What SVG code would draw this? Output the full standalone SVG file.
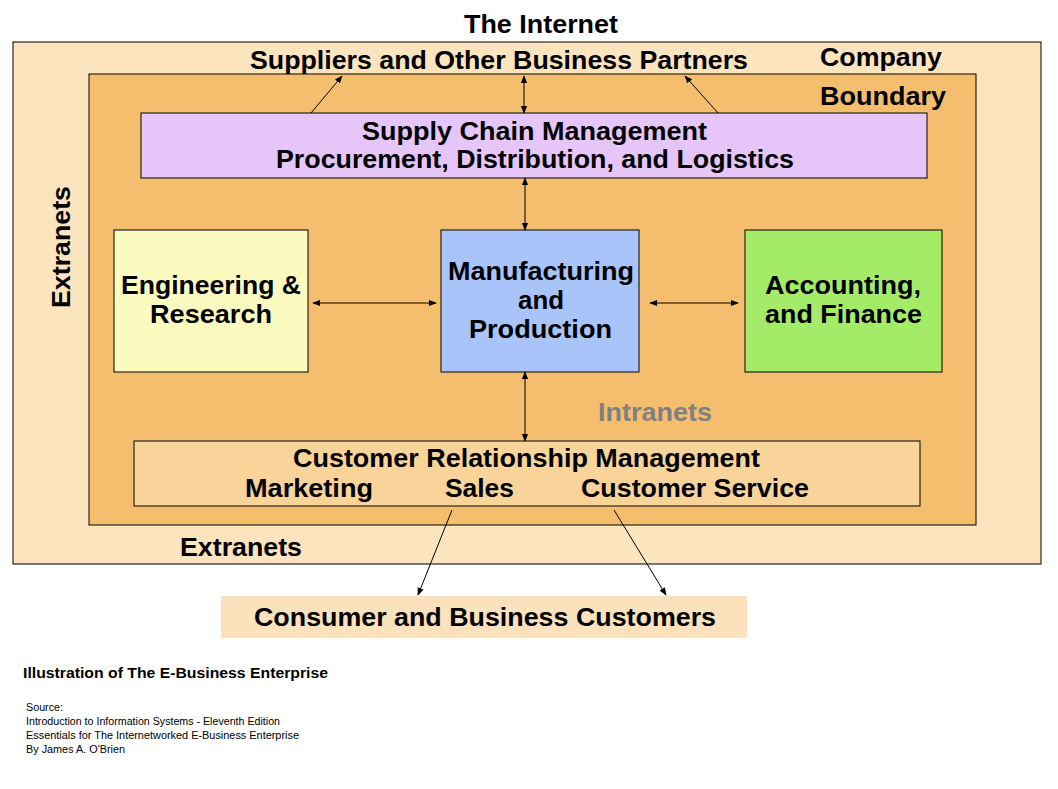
<svg xmlns="http://www.w3.org/2000/svg" width="1058" height="789" viewBox="0 0 1058 789">
<style>
.b{font-family:"Liberation Sans",Arial,sans-serif;font-weight:bold;fill:#000}
.t{font-size:25px}
.s{font-family:"Liberation Sans",Arial,sans-serif;font-size:10px;fill:#000}
.box{stroke:#000;stroke-width:1}
.c{stroke:#000;stroke-width:1;fill:none}
</style>
<defs>
<marker id="a" viewBox="0 0 10 10" refX="9" refY="5" markerWidth="8" markerHeight="8" orient="auto-start-reverse" markerUnits="userSpaceOnUse"><path d="M0,1 L10,5 L0,9 z" fill="#000"/></marker>
</defs>
<rect width="1058" height="789" fill="#fff"/>
<text class="b t" x="464" y="33" textLength="154" lengthAdjust="spacingAndGlyphs">The Internet</text>
<g id="company">
<rect class="box" x="13" y="42" width="1028" height="522" fill="#FCE4BE"/>
<rect class="box" x="89" y="74" width="887" height="451" fill="#F4BE6E"/>
<text class="b t" x="820" y="66" textLength="122" lengthAdjust="spacingAndGlyphs">Company</text>
<text class="b t" x="820" y="105" textLength="126" lengthAdjust="spacingAndGlyphs">Boundary</text>
<text class="b t" x="250" y="69" textLength="498" lengthAdjust="spacingAndGlyphs">Suppliers and Other Business Partners</text>
<text class="b t" x="70" y="308" textLength="122" lengthAdjust="spacingAndGlyphs" transform="rotate(-90 70 308)">Extranets</text>
<text class="b t" x="180" y="556" textLength="122" lengthAdjust="spacingAndGlyphs">Extranets</text>
<text class="b t" x="598" y="421" textLength="114" lengthAdjust="spacingAndGlyphs" style="fill:#808080">Intranets</text>
</g>
<g id="scm">
<rect class="box" x="141" y="113" width="786" height="65" fill="#E6C6F8"/>
<text class="b t" x="362" y="140" textLength="345" lengthAdjust="spacingAndGlyphs">Supply Chain Management</text>
<text class="b t" x="276" y="168" textLength="518" lengthAdjust="spacingAndGlyphs">Procurement, Distribution, and Logistics</text>
</g>
<g id="eng">
<rect class="box" x="114" y="230" width="194" height="142" fill="#FBFBC0"/>
<text class="b t" x="121" y="294" textLength="180" lengthAdjust="spacingAndGlyphs">Engineering &amp;</text>
<text class="b t" x="150" y="323" textLength="122" lengthAdjust="spacingAndGlyphs">Research</text>
</g>
<g id="mfg">
<rect class="box" x="441" y="230" width="198" height="142" fill="#A8C4F8"/>
<text class="b t" x="448" y="280" textLength="186" lengthAdjust="spacingAndGlyphs">Manufacturing</text>
<text class="b t" x="518" y="309" textLength="46" lengthAdjust="spacingAndGlyphs">and</text>
<text class="b t" x="469" y="338" textLength="143" lengthAdjust="spacingAndGlyphs">Production</text>
</g>
<g id="acc">
<rect class="box" x="745" y="230" width="197" height="142" fill="#A4EC68"/>
<text class="b t" x="765" y="294" textLength="156" lengthAdjust="spacingAndGlyphs">Accounting,</text>
<text class="b t" x="765" y="323" textLength="157" lengthAdjust="spacingAndGlyphs">and Finance</text>
</g>
<g id="crm">
<rect class="box" x="134" y="441" width="786" height="65" fill="#F8D49A"/>
<text class="b t" x="293" y="467" textLength="467" lengthAdjust="spacingAndGlyphs">Customer Relationship Management</text>
<text class="b t" x="245" y="497" textLength="128" lengthAdjust="spacingAndGlyphs">Marketing</text>
<text class="b t" x="445" y="497" textLength="69" lengthAdjust="spacingAndGlyphs">Sales</text>
<text class="b t" x="581" y="497" textLength="228" lengthAdjust="spacingAndGlyphs">Customer Service</text>
</g>
<g id="cust">
<rect x="221" y="596" width="526" height="42" fill="#FBE2BC"/>
<text class="b t" x="254" y="626" textLength="462" lengthAdjust="spacingAndGlyphs">Consumer and Business Customers</text>
</g>
<g id="connectors">
<line class="c" x1="311" y1="113" x2="342" y2="76" marker-end="url(#a)"/>
<line class="c" x1="524" y1="113" x2="524" y2="76" marker-start="url(#a)" marker-end="url(#a)"/>
<line class="c" x1="718" y1="113" x2="685" y2="76" marker-end="url(#a)"/>
<line class="c" x1="525" y1="230" x2="525" y2="178" marker-start="url(#a)" marker-end="url(#a)"/>
<line class="c" x1="313" y1="303" x2="436" y2="303" marker-start="url(#a)" marker-end="url(#a)"/>
<line class="c" x1="650" y1="303" x2="738" y2="303" marker-start="url(#a)" marker-end="url(#a)"/>
<line class="c" x1="525" y1="441" x2="525" y2="372" marker-start="url(#a)" marker-end="url(#a)"/>
<line class="c" x1="452" y1="510" x2="418" y2="595" marker-end="url(#a)"/>
<line class="c" x1="614" y1="510" x2="666" y2="595" marker-end="url(#a)"/>
</g>
<text class="b" x="23" y="678" font-size="14" textLength="305" lengthAdjust="spacingAndGlyphs">Illustration of The E-Business Enterprise</text>
<text class="s" x="26" y="711" textLength="37" lengthAdjust="spacingAndGlyphs">Source:</text>
<text class="s" x="26" y="725" textLength="254" lengthAdjust="spacingAndGlyphs">Introduction to Information Systems - Eleventh Edition</text>
<text class="s" x="26" y="739" textLength="273" lengthAdjust="spacingAndGlyphs">Essentials for The Internetworked E-Business Enterprise</text>
<text class="s" x="26" y="753" textLength="99" lengthAdjust="spacingAndGlyphs">By James A. O'Brien</text>
</svg>
